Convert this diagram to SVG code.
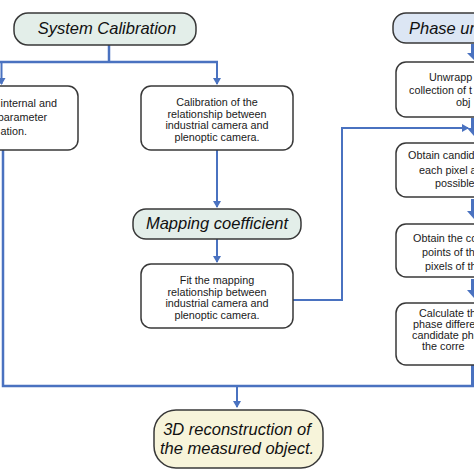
<svg xmlns="http://www.w3.org/2000/svg" width="474" height="474" viewBox="0 0 474 474">
<style>
.box{fill:#fff;stroke:#383838;stroke-width:1.5}
.tg{fill:#e3eee9;stroke:#383838;stroke-width:1.5}
.tb{fill:#dce6f4;stroke:#383838;stroke-width:1.5}
.ty{fill:#f7f4da;stroke:#383838;stroke-width:1.5}
.t{font-family:"Liberation Sans",Arial,sans-serif;font-size:10.8px;fill:#1a1a1a}
.c{text-anchor:middle}
.ti{font-family:"Liberation Sans",Arial,sans-serif;font-size:16.5px;font-style:italic;fill:#111}
.ln{fill:none;stroke:#4a72c0;stroke-width:2.5}
.ar{fill:none;stroke:#4a72c0;stroke-width:2;marker-end:url(#ah)}
.blk{fill:#4a72c0}
</style>
<defs>
<marker id="ah" markerWidth="8" markerHeight="8" refX="6" refY="4" orient="auto" markerUnits="userSpaceOnUse">
<path d="M0,0 L7,4 L0,8 Z" fill="#4a72c0"/>
</marker>
</defs>
<rect width="474" height="474" fill="#fff"/>
<g id="connectors">
<path class="ln" d="M109,45 V62"/>
<path class="ln" d="M0,62 H218"/>
<path class="ar" d="M1.5,62 V84"/>
<path class="ar" d="M217,62 V84"/>
<path class="ar" d="M217,150 V207"/>
<path class="ar" d="M217,239 V262"/>
<path class="ar" d="M293,300 H342 V128 H468"/>
<path class="ln" d="M3,150 V386 H474"/>
<rect class="blk" x="471" y="365" width="8" height="22"/>
<path class="ar" d="M237,386 V407"/>
<path class="blk" d="M471,44 H479 V53 H483 L475,61 L467,53 H471 Z"/>
<path class="blk" d="M471,118 H479 V128 H483 L475,137 L467,128 H471 Z"/>
<path class="blk" d="M471,199 H479 V211 H483 L475,220 L467,211 H471 Z"/>
<path class="blk" d="M471,279 H479 V290 H483 L475,299 L467,290 H471 Z"/>
</g>
<g id="system-calibration">
<rect class="tg" x="14" y="13" width="182" height="32" rx="14"/>
<text class="ti c" x="107" y="34">System Calibration</text>
</g>
<g id="internal-calibration">
<rect class="box" x="-20" y="86" width="98" height="64" rx="10"/>
<text class="t" text-anchor="end" x="57" y="107">internal and</text>
<text class="t" text-anchor="end" x="47" y="121">parameter</text>
<text class="t" text-anchor="end" x="27" y="135">ation.</text>
</g>
<g id="relationship-calibration">
<rect class="box" x="141" y="86" width="152" height="64" rx="10"/>
<text class="t c" x="217" y="106">Calibration of the</text>
<text class="t c" x="217" y="118">relationship between</text>
<text class="t c" x="217" y="129">industrial camera and</text>
<text class="t c" x="217" y="141">plenoptic camera.</text>
</g>
<g id="mapping-coefficient">
<rect class="tg" x="133" y="209" width="168" height="30" rx="13"/>
<text class="ti c" x="217" y="229">Mapping coefficient</text>
</g>
<g id="fit-mapping">
<rect class="box" x="141" y="264" width="152" height="64" rx="10"/>
<text class="t c" x="217" y="284">Fit the mapping</text>
<text class="t c" x="217" y="296">relationship between</text>
<text class="t c" x="217" y="307">industrial camera and</text>
<text class="t c" x="217" y="319">plenoptic camera.</text>
</g>
<g id="phase-unwrapping">
<rect class="tb" x="393" y="13" width="100" height="30" rx="13"/>
<text class="ti" x="409" y="34">Phase un</text>
</g>
<g id="unwrapped">
<rect class="box" x="396" y="62" width="100" height="55" rx="10"/>
<text class="t" x="429" y="81">Unwrapp</text>
<text class="t" x="409" y="94">collection of t</text>
<text class="t" x="456" y="106">obj</text>
</g>
<g id="obtain-candidate">
<rect class="box" x="396" y="143" width="100" height="54" rx="10"/>
<text class="t" x="408" y="159">Obtain candid</text>
<text class="t" x="419" y="174">each pixel a</text>
<text class="t" x="435" y="187">possible</text>
</g>
<g id="obtain-corresponding">
<rect class="box" x="396" y="224" width="100" height="53" rx="10"/>
<text class="t" x="413" y="242">Obtain the co</text>
<text class="t" x="422" y="256">points of th</text>
<text class="t" x="425" y="270">pixels of the</text>
</g>
<g id="calculate-phase">
<rect class="box" x="396" y="303" width="100" height="62" rx="10"/>
<text class="t" x="419" y="317">Calculate th</text>
<text class="t" x="413" y="328">phase differe</text>
<text class="t" x="412" y="339">candidate ph</text>
<text class="t" x="422" y="350">the corre</text>
</g>
<g id="reconstruction">
<rect class="ty" x="154" y="410" width="169" height="58" rx="22"/>
<text class="ti c" x="237" y="435">3D reconstruction of</text>
<text class="ti c" x="237" y="454">the measured object.</text>
</g>
</svg>
